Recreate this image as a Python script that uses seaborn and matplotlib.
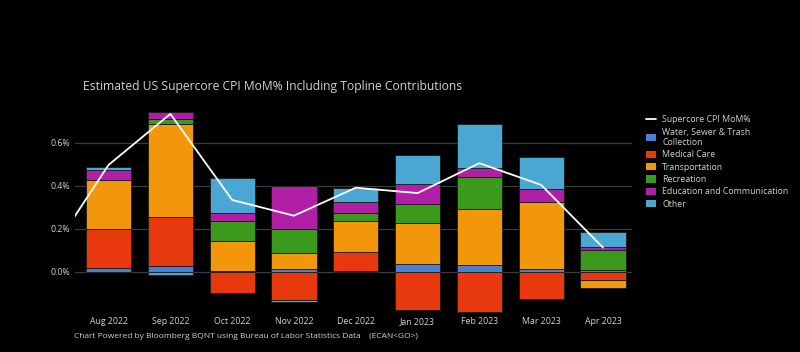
import numpy as np
import pandas as pd
import matplotlib
matplotlib.use("Agg")
import matplotlib.pyplot as plt
import seaborn as sns
from matplotlib.lines import Line2D
from matplotlib.patches import Patch

# --- data (MoM %) ---
months = ['Aug 2022', 'Sep 2022', 'Oct 2022', 'Nov 2022', 'Dec 2022',
          'Jan 2023', 'Feb 2023', 'Mar 2023', 'Apr 2023']
water = [0.019, 0.028, 0.004, 0.010, 0.005, 0.034, 0.031, 0.010, 0.008]
medical = [0.181, 0.226, -0.100, -0.130, 0.085, -0.180, -0.186, -0.125, -0.038]
transport = [0.227, 0.433, 0.138, 0.076, 0.143, 0.191, 0.260, 0.315, -0.040]
recreation = [0.0, 0.023, 0.095, 0.113, 0.039, 0.090, 0.147, 0.0, 0.093]
education = [0.044, 0.034, 0.035, 0.201, 0.052, 0.092, 0.042, 0.058, 0.015]
other = [0.017, -0.015, 0.163, -0.010, 0.064, 0.133, 0.205, 0.149, 0.070]

# line starts one month earlier (Jul 2022), clipped at the left edge
line_months = ['Jul 2022'] + months
supercore = [0.06, 0.496, 0.733, 0.333, 0.260, 0.390, 0.365, 0.504, 0.403, 0.112]

series = {
    'Water, Sewer & Trash\nCollection': (water, '#4a80d4'),
    'Medical Care': (medical, '#e8390e'),
    'Transportation': (transport, '#f2960c'),
    'Recreation': (recreation, '#3b9a1c'),
    'Education and Communication': (education, '#b01fa6'),
    'Other': (other, '#4aa6d2'),
}

sns.set_theme(style='dark', rc={'axes.facecolor': 'black', 'figure.facecolor': 'black'})
plt.rcParams['font.family'] = ['Open Sans', 'DejaVu Sans']
txt = '#d2d2d2'

fig = plt.figure(figsize=(8, 3.52), dpi=100)
ax = fig.add_axes([0.094, 0.111, 0.696, 0.588])
ax.set_facecolor('black')

x = np.arange(len(months))
pos = np.zeros(len(months))
neg = np.zeros(len(months))
for name, (vals, col) in series.items():
    v = np.array(vals)
    bottom = np.where(v >= 0, pos, neg)
    ax.bar(x, v, bottom=bottom, width=0.73, color=col, edgecolor='#1a1a1a',
           linewidth=0.6, zorder=2)
    pos += np.where(v >= 0, v, 0)
    neg += np.where(v < 0, v, 0)

line_df = pd.DataFrame({'x': np.arange(len(line_months)) - 1, 'y': supercore})
sns.lineplot(data=line_df, x='x', y='y', ax=ax, color='white', linewidth=1.3, zorder=3)

ax.set_xlim(-0.54, 8.47)
ax.set_ylim(-0.192, 0.77)
ax.set_yticks([0.0, 0.2, 0.4, 0.6])
ax.set_yticklabels(['0.0%', '0.2%', '0.4%', '0.6%'])
ax.set_xticks(x)
ax.set_xticklabels(months)
ax.set_xlabel('')
ax.set_ylabel('')
ax.grid(False)
for yv in [0.0, 0.2, 0.4, 0.6]:
    ax.axhline(yv, color='#3c3c3c', linewidth=0.9, zorder=1)
for s in ax.spines.values():
    s.set_visible(False)
ax.tick_params(axis='both', colors=txt, labelsize=6.3, length=0, pad=4)
ax.tick_params(axis='x', pad=3)

fig.text(0.104, 0.745, 'Estimated US Supercore CPI MoM% Including Topline Contributions',
         color=txt, fontsize=8.7)
fig.text(0.092, 0.04, 'Chart Powered by Bloomberg BQNT using Bureau of Labor Statistics Data    (ECAN<GO>)',
         color=txt, fontsize=6.0)

handles = [Line2D([0], [0], color='white', linewidth=1.3)]
labels = ['Supercore CPI MoM%']
for name, (vals, col) in series.items():
    handles.append(Patch(facecolor=col, edgecolor='none'))
    labels.append(name)
leg = fig.legend(handles, labels, loc='upper left', bbox_to_anchor=(0.798, 0.695),
                 frameon=False, fontsize=6.3, labelcolor=txt, handlelength=1.1,
                 handleheight=0.9, handletextpad=0.7, labelspacing=0.38)

fig.savefig('out.png', dpi=100, facecolor='black')
